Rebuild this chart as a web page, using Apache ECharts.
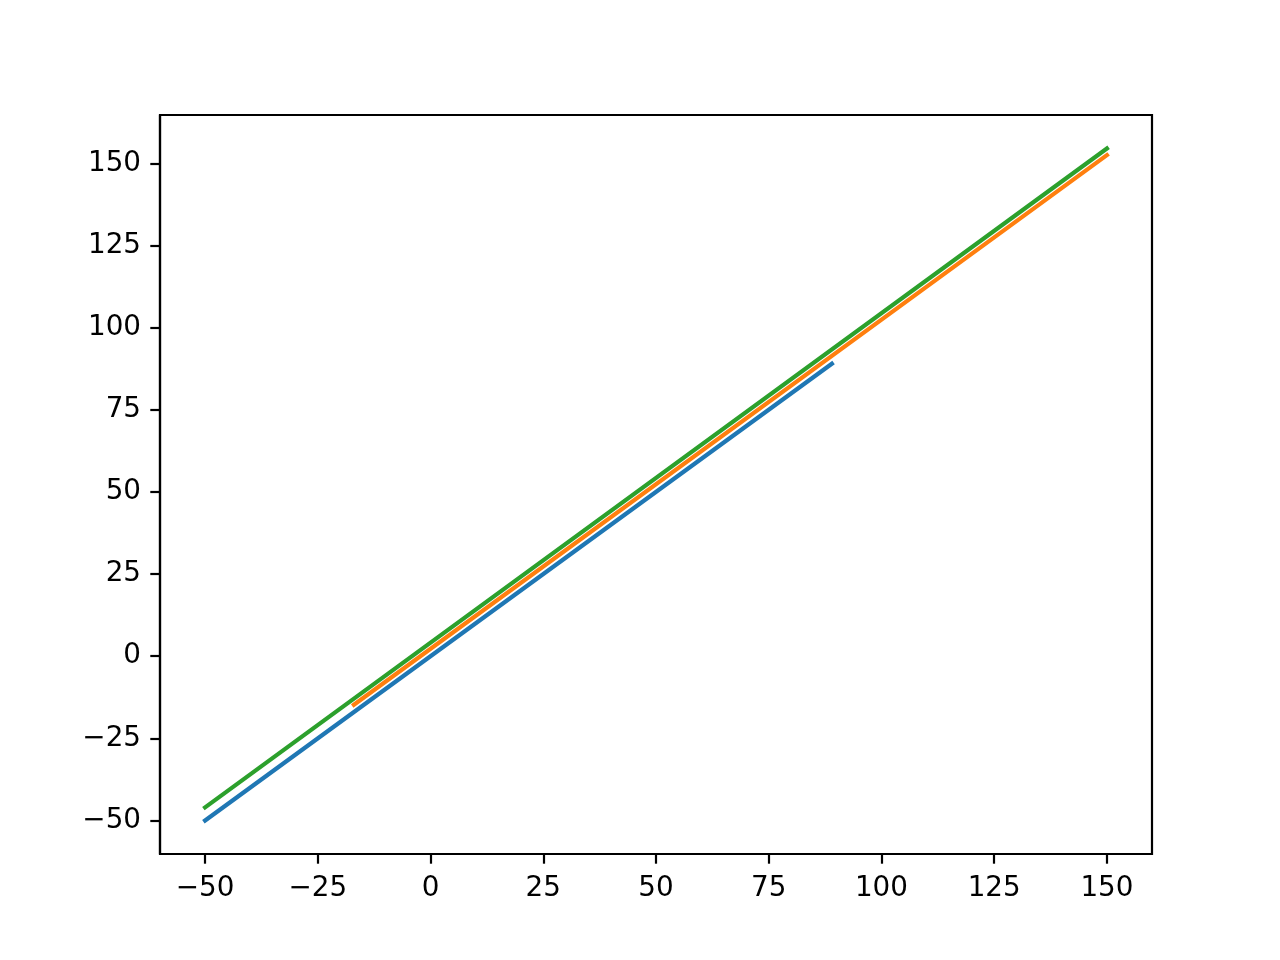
<!DOCTYPE html>
<html>
<head>
<meta charset="utf-8">
<script src="https://cdn.jsdelivr.net/npm/echarts@6/dist/echarts.min.js"></script>
<style>html,body{margin:0;padding:0;background:#fff}#c{width:1280px;height:960px}</style>
</head>
<body>
<div id="c"></div>
<script>
const xTicks = [-50, -25, 0, 25, 50, 75, 100, 125, 150];
const yTicks = [-50, -25, 0, 25, 50, 75, 100, 125, 150];
const blueX = [-50, 89];
const blueY = [-50, 89];
const orangeX = [-17, 150];
const orangeY = [-14.8, 152.5];
const greenX = [-50, 150];
const greenY = [-46, 154.5];

const pairs = (xs, ys) => xs.map((x, i) => [x, ys[i]]);
const fmt = v => String(v).replace('-', '\u2212');

const axisCommon = {
  type: 'value',
  axisLine: { show: true, onZero: false, lineStyle: { color: '#000', width: 2.2 } },
  axisTick: { show: true, inside: false, length: 9.7, lineStyle: { color: '#000', width: 2.2 } },
  axisLabel: { color: '#000', fontFamily: 'DejaVu Sans', fontSize: 27.8, margin: 19, formatter: fmt },
  splitLine: { show: false }
};

const chart = echarts.init(document.getElementById('c'), null, { renderer: 'canvas' });
chart.setOption({
  animation: false,
  backgroundColor: '#fff',
  grid: { left: 160, right: 128, top: 115, bottom: 106, show: true, borderColor: '#000', borderWidth: 2.2, containLabel: false },
  xAxis: Object.assign({}, axisCommon, {
    min: -60, max: 160,
    axisTick: Object.assign({}, axisCommon.axisTick, { customValues: xTicks }),
    axisLabel: Object.assign({}, axisCommon.axisLabel, { customValues: xTicks, margin: 21 })
  }),
  yAxis: Object.assign({}, axisCommon, {
    min: -60.2, max: 164.7,
    axisTick: Object.assign({}, axisCommon.axisTick, { customValues: yTicks }),
    axisLabel: Object.assign({}, axisCommon.axisLabel, { customValues: yTicks })
  }),
  series: [
    { type: 'line', data: pairs(blueX, blueY), showSymbol: false, lineStyle: { color: '#1f77b4', width: 4.2, cap: 'square' }, itemStyle: { color: '#1f77b4' } },
    { type: 'line', data: pairs(orangeX, orangeY), showSymbol: false, lineStyle: { color: '#ff7f0e', width: 4.2, cap: 'square' }, itemStyle: { color: '#ff7f0e' } },
    { type: 'line', data: pairs(greenX, greenY), showSymbol: false, lineStyle: { color: '#2ca02c', width: 4.2, cap: 'square' }, itemStyle: { color: '#2ca02c' } }
  ]
});
</script>
</body>
</html>
